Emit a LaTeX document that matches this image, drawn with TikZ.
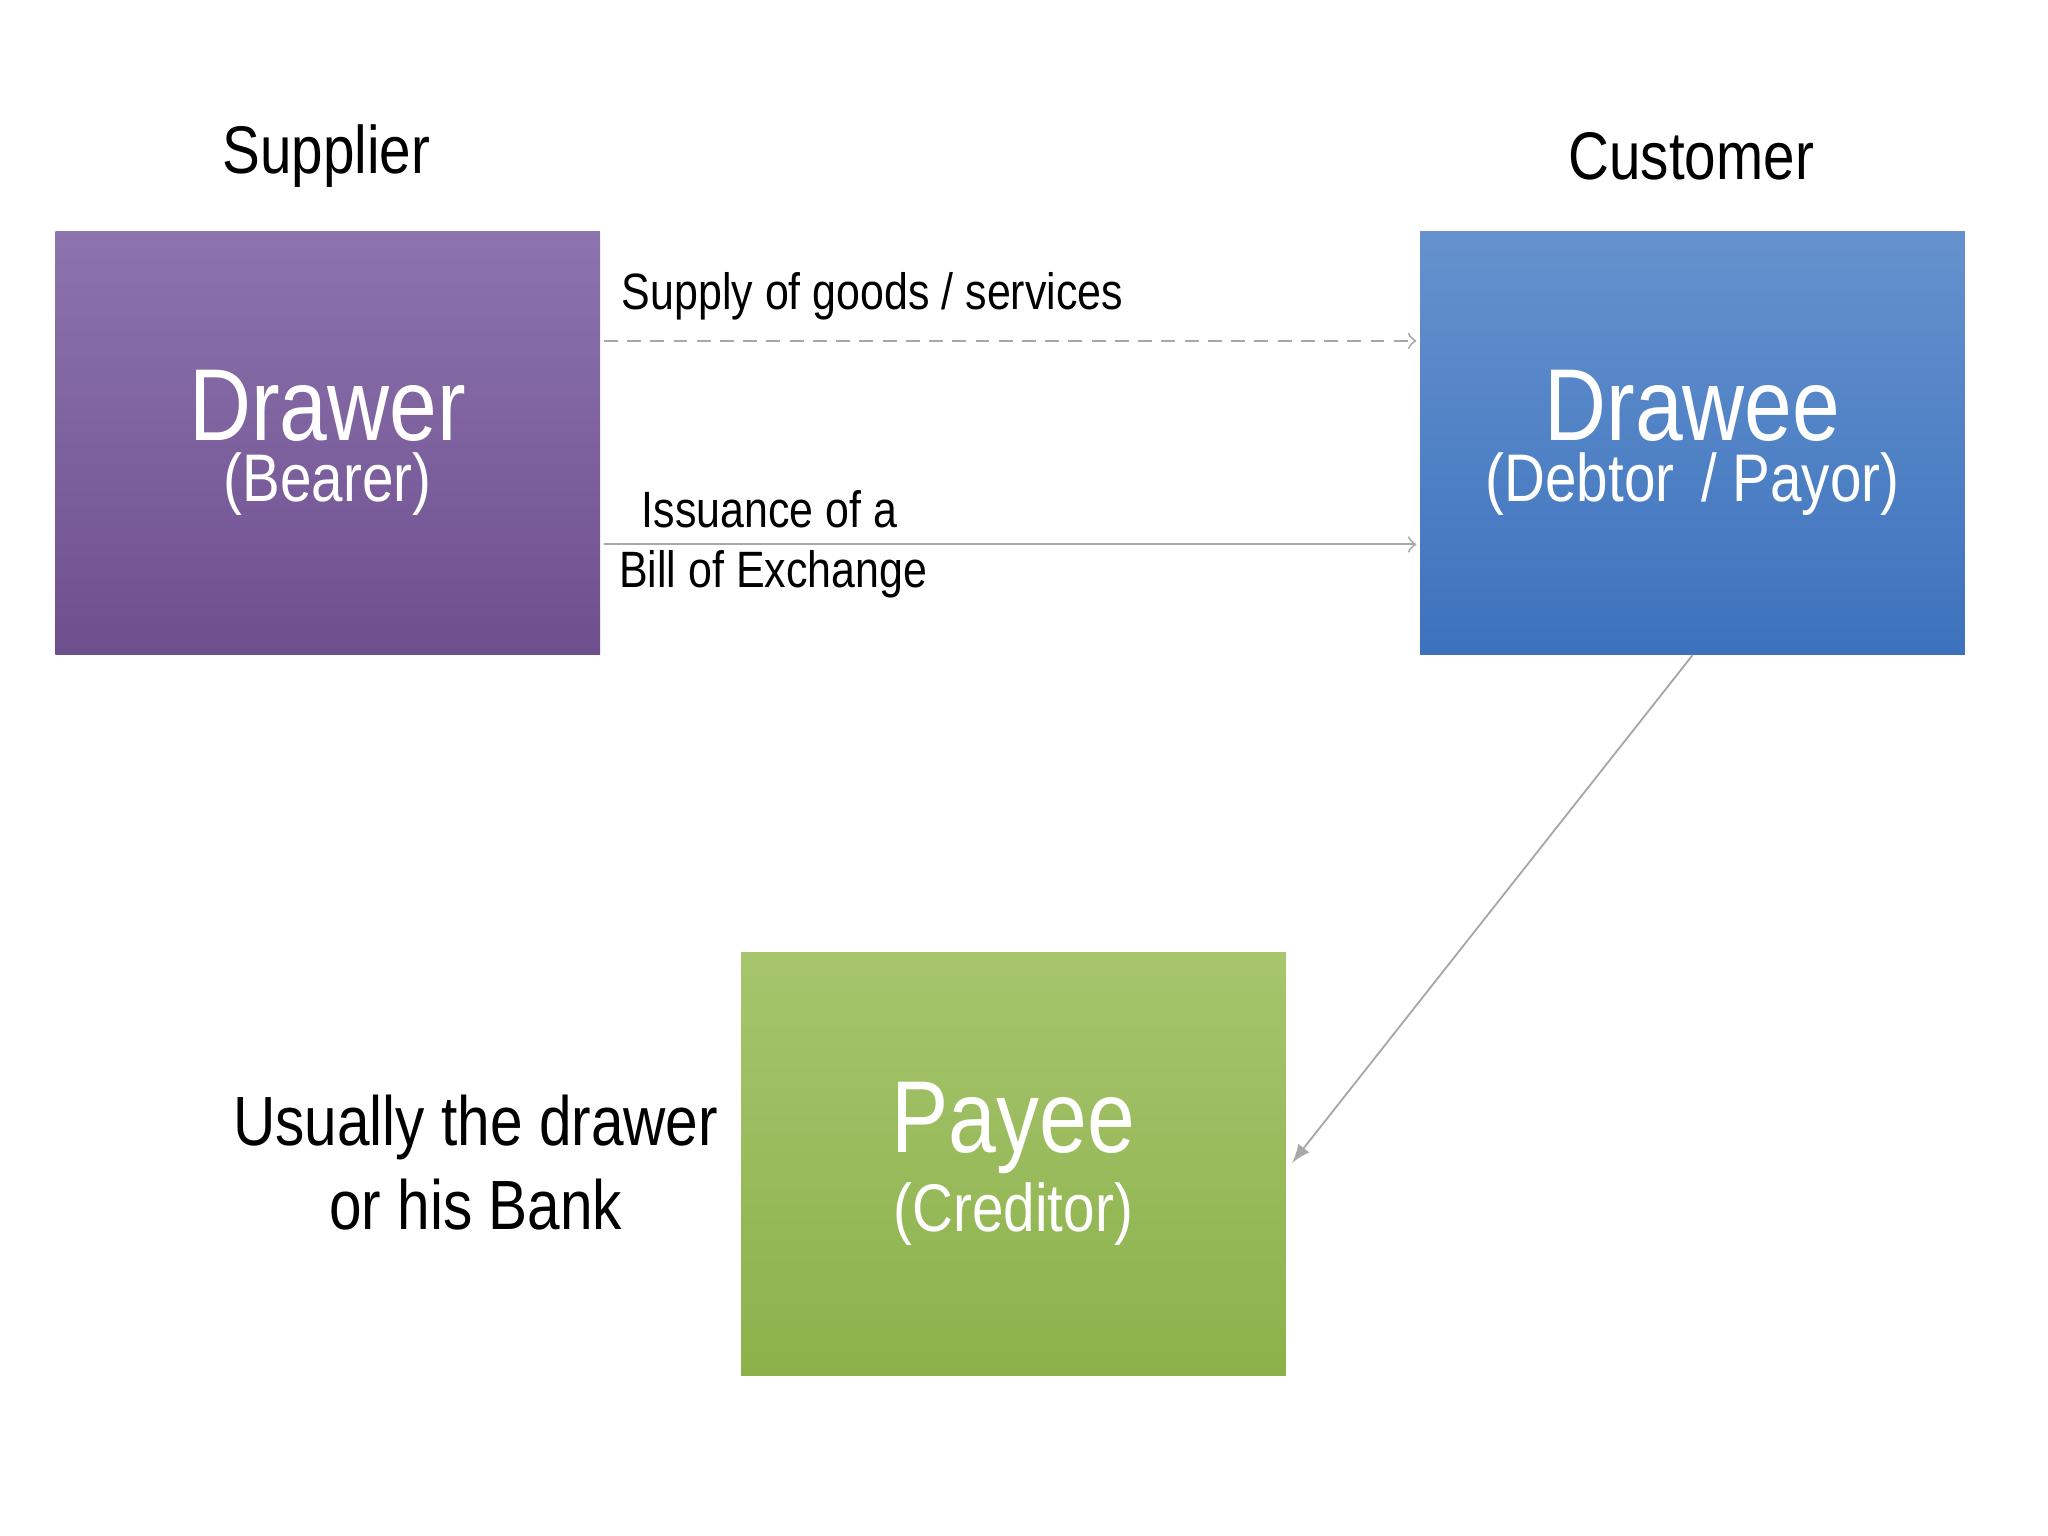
\documentclass[tikz,border=0pt]{standalone}
\usepackage{fontspec}
\setmainfont{Liberation Sans}[FakeStretch=0.84]
\usetikzlibrary{arrows,positioning}
\definecolor{purpleTop}{HTML}{8C74AE}
\definecolor{purpleBot}{HTML}{6E4F8E}
\definecolor{blueTop}{HTML}{6592CE}
\definecolor{blueBot}{HTML}{3C72BD}
\definecolor{greenTop}{HTML}{A6C56D}
\definecolor{greenBot}{HTML}{8CB14A}
\definecolor{lineGrey}{HTML}{A8A8A8}

\begin{document}
\begin{tikzpicture}[
    x=0.01cm, y=-0.01cm,
    party/.style={rectangle, minimum width=4.12cm, minimum height=3.2cm, inner sep=0, text=white, align=center},
    role/.style={font=\fontsize{14.5pt}{18pt}\selectfont, align=center},
    flow/.style={font=\fontsize{11pt}{14pt}\selectfont, align=left, inner sep=0},
    link/.style={draw=lineGrey, thin, ->, >=to}]
\useasboundingbox (0,0) rectangle (1550,1162);

\node[party, top color=purpleTop, bottom color=purpleBot] (drawer) at (248,335)
    {\fontsize{22pt}{22pt}\selectfont Drawer\\[1pt]{\fontsize{14.5pt}{18pt}\selectfont (Bearer)}};
\node[party, top color=blueTop, bottom color=blueBot] (drawee) at (1281,335)
    {\fontsize{22pt}{22pt}\selectfont Drawee\\[1pt]{\fontsize{14.5pt}{18pt}\selectfont (Debtor\, / Payor)}};
\node[party, top color=greenTop, bottom color=greenBot] (payee) at (767,881)
    {\fontsize{22pt}{22pt}\selectfont Payee\\[1pt]{\fontsize{14.5pt}{18pt}\selectfont (Creditor)}};

\node[role] (supplier) at (247,118) {Supplier};
\node[role] (customer) at (1280,118) {Customer};
\node[role, font=\fontsize{15pt}{18pt}\selectfont] (usual) at (360,880) {Usually the drawer\\or his Bank};

\coordinate (dashA) at (457,258);
\coordinate (dashB) at (1072,258);
\coordinate (billA) at (457,412);
\coordinate (billB) at (1072,412);
\coordinate (payIn) at (978,880);

\draw[link, densely dashed] (dashA) -- (dashB);
\draw[link] (billA) -- (billB);
\draw[draw=lineGrey, thin, -latex] (drawee.south) -- (payIn);

\node[flow, anchor=south west] (supply) at (470,243) {Supply of goods / services};
\node[flow, anchor=south west] (issue) at (485,400) {Issuance of a};
\node[flow, anchor=north west] (bill) at (468,416) {Bill of Exchange};
\end{tikzpicture}
\end{document}
